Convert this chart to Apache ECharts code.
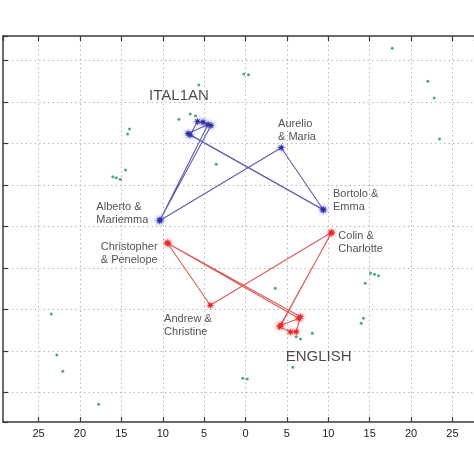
<!DOCTYPE html>
<html>
<head>
<meta charset="utf-8">
<script src="https://cdn.jsdelivr.net/npm/echarts@6/dist/echarts.min.js"></script>
<style>
  html, body { margin: 0; padding: 0; background: #fff; }
  #chart { width: 474px; height: 474px; }
</style>
</head>
<body>
<div id="chart"></div>
<script>
// italian couples, one path through the cluster twice (blue)
const italianPath = [
  [-10.39, 0.70], [4.31, 9.49], [9.42, 1.99], [-6.70, 11.02], [-5.80, 12.65],
  [-5.13, 12.55], [-4.17, 12.17], [-10.33, 0.78], [-4.53, 12.29], [-6.94, 11.20],
  [9.36, 2.05]
];
// english couples (red)
const englishPath = [
  [-9.46, -1.95], [-4.26, -9.49], [10.42, -0.70], [4.11, -12.07], [5.43, -12.71],
  [6.12, -12.67], [6.64, -10.87], [-9.36, -2.05], [6.46, -11.08], [4.29, -11.87],
  [10.33, -0.82]
];
// small green word points
const wordDots = [
  [-14.01, 11.75], [-14.25, 11.14], [-14.49, 6.81], [-16.03, 6.00], [-15.62, 5.88],
  [-15.13, 5.69], [-23.47, -10.54], [-22.79, -15.48], [-22.07, -17.45], [-17.75, -21.42],
  [17.72, 21.47], [22.02, 17.49], [22.79, 15.48], [23.43, 10.54], [-5.64, 17.05],
  [-0.21, 18.37], [0.36, 18.29], [-8.06, 12.92], [-6.68, 13.55], [-6.04, 13.35],
  [-3.54, 7.49], [3.59, -7.45], [6.12, -13.28], [6.64, -13.55], [8.06, -12.87],
  [5.71, -16.96], [-0.33, -18.29], [0.21, -18.37], [15.10, -5.64], [15.58, -5.76],
  [16.06, -5.93], [14.46, -6.84], [14.25, -11.06], [13.97, -11.66]
];
const coupleNames = ['Aurelio\n& Maria', 'Bortolo &\nEmma', 'Alberto &\nMariemma',
  'Christopher\n& Penelope', 'Colin &\nCharlotte', 'Andrew &\nChristine'];
const coupleAt = [[3.99, 13.10], [10.63, 4.70], [-17.96, 3.05], [-17.43, -1.72], [11.27, -0.36], [-9.78, -10.36]];
const groupNames = ['ITAL1AN', 'ENGLISH'];
const groupAt = [[-11.59, 16.72], [4.92, -14.64]];

const xMin = -29.3, xMax = 27.6, yMin = -23.55, yMax = 22.95;

// asterisk-like star marker
const star = 'path://M0,-10 L1.53,-3.7 L7.07,-7.07 L3.7,-1.53 L10,0 L3.7,1.53 L7.07,7.07 L1.53,3.7 L0,10 L-1.53,3.7 L-7.07,7.07 L-3.7,1.53 L-10,0 L-3.7,-1.53 L-7.07,-7.07 L-1.53,-3.7 Z';

const chart = echarts.init(document.getElementById('chart'));

const gridLine = { show: true, showMinLine: false, showMaxLine: false,
  lineStyle: { color: '#b8b8b8', width: 1, type: [1.5, 3] } };
const axisLine = { show: true, onZero: false, lineStyle: { color: '#3a3a3a', width: 1.5 } };
const tick = { show: true, inside: true, length: 5, lineStyle: { color: '#3a3a3a', width: 1.2 } };

chart.setOption({
  animation: false,
  grid: { left: 3, right: 0, top: 36, bottom: 52 },
  xAxis: [
    {
      type: 'value', min: xMin, max: xMax, minInterval: 5, maxInterval: 5, splitNumber: 10,
      axisLine: axisLine, axisTick: tick,
      axisLabel: {
        show: true, showMinLabel: false, showMaxLabel: false, margin: 6,
        color: '#222', fontSize: 11, fontFamily: 'Liberation Sans, Arial, sans-serif',
        formatter: v => String(Math.abs(v))
      },
      splitLine: gridLine
    },
    {
      type: 'value', position: 'top', min: xMin, max: xMax, minInterval: 5, maxInterval: 5, splitNumber: 10,
      axisLine: axisLine, axisTick: tick,
      axisLabel: { show: false },
      splitLine: { show: false }
    }
  ],
  yAxis: {
    type: 'value', min: yMin, max: yMax, minInterval: 5, maxInterval: 5, splitNumber: 10,
    axisLine: axisLine, axisTick: tick,
    axisLabel: { show: false },
    splitLine: gridLine
  },
  series: [
    {
      type: 'scatter', data: wordDots, symbolSize: 3,
      itemStyle: { color: '#2c8a72' }, silent: true
    },
    {
      type: 'line', data: italianPath, smooth: false,
      lineStyle: { color: '#4d4d9e', width: 1.1, opacity: 0.9 },
      symbol: star, symbolSize: 8, showSymbol: true,
      itemStyle: { color: '#3030a0', shadowBlur: 4, shadowColor: 'rgba(70,70,210,0.7)' },
      silent: true
    },
    {
      type: 'line', data: englishPath, smooth: false,
      lineStyle: { color: '#d84848', width: 1.1, opacity: 0.9 },
      symbol: star, symbolSize: 8, showSymbol: true,
      itemStyle: { color: '#e02a2a', shadowBlur: 4, shadowColor: 'rgba(240,60,60,0.7)' },
      silent: true
    },
    {
      type: 'scatter', symbolSize: 1, itemStyle: { color: 'rgba(0,0,0,0)' }, silent: true,
      data: coupleNames.map((n, i) => ({ name: n, value: coupleAt[i] })),
      label: {
        show: true, position: [0, 0], align: 'left', verticalAlign: 'top',
        formatter: p => p.name, color: '#262626', fontSize: 11, lineHeight: 13,
        fontFamily: 'Liberation Sans, Arial, sans-serif'
      }
    },
    {
      type: 'scatter', symbolSize: 1, itemStyle: { color: 'rgba(0,0,0,0)' }, silent: true,
      data: groupNames.map((n, i) => ({ name: n, value: groupAt[i] })),
      label: {
        show: true, position: [0, 0], align: 'left', verticalAlign: 'top',
        formatter: p => p.name, color: '#1e1e1e', fontSize: 15, lineHeight: 18,
        fontFamily: 'Liberation Sans, Arial, sans-serif'
      }
    }
  ]
});
</script>
</body>
</html>
